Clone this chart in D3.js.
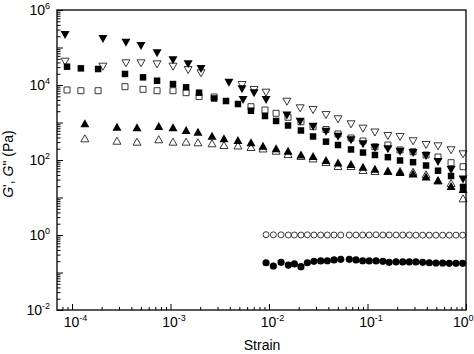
<!DOCTYPE html>
<html>
<head>
<meta charset="utf-8">
<script src="https://cdn.jsdelivr.net/npm/d3@7"></script>
<style>
  body { margin: 0; background: #fff; }
  svg { font-family: "Liberation Sans", Arial, sans-serif; }
  .frame { fill: none; stroke: #000; stroke-width: 1.3; }
  .axis path { display: none; }
  .axis line { stroke: #000; stroke-width: 1; }
  .tick-label { font-size: 14px; fill: #000; }
  .axis-title { font-size: 14px; fill: #000; }
</style>
</head>
<body>
<div id="chart"></div>
<script>
// strain values and moduli (Pa), one pair of arrays per sample
const strainA = [8.5e-5, 2.06e-4, 3.53e-4, 5.02e-4, 7.3e-4, 1.06e-3, 1.51e-3, 2.04e-3, 3.92e-3, 5.32e-3,
  5.45e-3, 7.05e-3, 9.33e-3, 1.52e-2, 2.07e-2, 2.80e-2, 3.79e-2, 5.02e-2, 6.80e-2, 9.0e-2,
  0.119, 0.161, 0.214, 0.290, 0.393, 0.520, 0.705, 0.933];
const gPrimeA = [2.15e5, 1.69e5, 1.34e5, 1.10e5, 7.0e4, 4.6e4, 3.6e4, 2.67e4, 1.15e4, 7.7e3,
  3.98e3, 6.0e3, 4.0e3, 1.54e3, 1.05e3, 773, 569, 418, 335, 262,
  209, 193, 166, 154, 128, 88.5, 54, 30.2];
const gDoublePrimeA = [4.18e4, 3.08e4, 3.79e4, 3.79e4, 3.56e4, 3.08e4, 2.51e4, 2.05e4, null, 1.0e4,
  null, 7.36e3, 6.24e3, 3.59e3, 2.39e3, 2.15e3, 1.58e3, 1.22e3, 895, 684,
  541, 437, 411, 316, 251, 232, 182, 142];

const strainB = [8.9e-5, 1.23e-4, 1.84e-4, 3.45e-4, 5.26e-4, 7.3e-4, 1.06e-3, 1.44e-3, 1.95e-3, 2.77e-3,
  3.66e-3, 4.84e-3, 6.56e-3, 9.1e-3, 1.18e-2, 1.56e-2, 2.11e-2, 2.80e-2, 3.79e-2, 5.02e-2,
  6.80e-2, 9.0e-2, 0.119, 0.161, 0.214, 0.290, 0.393, 0.520, 0.705, 0.933];
const gPrimeB = [3.08e4, 2.78e4, 2.67e4, 1.97e4, 1.60e4, 1.30e4, 1.06e4, 8.68e3, 6.24e3, 4.37e3,
  3.74e3, 3.11e3, 2.06e3, 1.49e3, 1.10e3, 832, 612, 424, 308, 251,
  191, 158, 136, 119, 97, 87.4, 71.3, 51.9, 37.4, 19.1];
const gDoublePrimeB = [7.36e3, 7.05e3, 7.05e3, 9.01e3, 7.67e3, 7.05e3, 7.05e3, 6.24e3, 4.93e3, 4.79e3,
  null, null, 2.64e3, 2.15e3, 1.76e3, 1.38e3, 1.05e3, 773, 650, 494,
  386, 321, 226, 251, 185, 166, 136, 120, 84.8, 66.3];

const strainC = [1.35e-4, 2.86e-4, 4.57e-4, 7.6e-4, 1.06e-3, 1.44e-3, 1.90e-3, 2.64e-3, 3.49e-3, 4.84e-3,
  6.56e-3, 8.69e-3, 1.18e-2, 1.56e-2, 2.11e-2, 2.80e-2, 3.79e-2, 5.02e-2, 6.80e-2, 9.0e-2,
  0.119, 0.161, 0.214, 0.290, 0.393, 0.520, 0.705, 0.933];
const gPrimeC = [953, 773, 745, 807, 745, 631, 569, 442, 379, 341,
  296, 240, 205, 177, 140, 128, 100, 85.8, 78.2, 66.3,
  58.6, 51.5, 47.9, 43.6, 36.3, 29.3, 20.3, 16.9];
const gDoublePrimeC = [379, 327, 308, 357, 308, 308, 296, 279, 251, 244,
  222, 203, 177, 145, 128, 110, 88.5, 69.2, 69.2, 54.1,
  50.9, 50.9, 50.9, 48.7, 41.6, 28.4, 24.4, 9.5];

const strainD = [0.00933, 0.01107, 0.01325, 0.0157, 0.0181, 0.0211, 0.0245, 0.0286, 0.0335, 0.0391,
  0.0457, 0.0535, 0.0653, 0.0764, 0.0893, 0.104, 0.122, 0.143, 0.166, 0.195,
  0.228, 0.266, 0.310, 0.363, 0.424, 0.495, 0.579, 0.676, 0.791, 0.925];
const gPrimeD = [0.182, 0.149, 0.187, 0.158, 0.169, 0.143, 0.182, 0.199, 0.203, 0.206,
  0.216, 0.225, 0.225, 0.216, 0.206, 0.203, 0.203, 0.199, 0.187, 0.191,
  0.191, 0.191, 0.191, 0.187, 0.182, 0.179, 0.179, 0.176, 0.176, 0.176];
const gDoublePrimeD = [1.02, 1.01, 1.01, 1.0, 1.0, 1.0, 1.01, 1.0, 1.0, 1.0,
  1.0, 1.0, 1.0, 1.0, 1.0, 1.0, 1.01, 1.0, 1.0, 1.0,
  1.0, 1.0, 0.99, 0.99, 0.99, 0.99, 0.99, 0.99, 0.99, 0.99];

// axis ticks
const xMajorExp = [-4, -3, -2, -1, 0];
const yLabelExp = [6, 4, 2, 0, -2];

class StrainSweep {

  constructor(_config) {
    this.config = {
      parentElement: _config.parentElement,
      containerWidth: _config.containerWidth || 474,
      containerHeight: _config.containerHeight || 354,
      margin: _config.margin || {top: 10, right: 8, bottom: 44, left: 57}
    }
    this.initVis();
  }

  initVis() {
    let vis = this;

    vis.width = vis.config.containerWidth - vis.config.margin.left - vis.config.margin.right;
    vis.height = vis.config.containerHeight - vis.config.margin.top - vis.config.margin.bottom;

    vis.svg = d3.select(vis.config.parentElement).append('svg')
        .attr('width', vis.config.containerWidth)
        .attr('height', vis.config.containerHeight);

    vis.chart = vis.svg.append('g')
        .attr('transform', `translate(${vis.config.margin.left},${vis.config.margin.top})`);

    vis.x = d3.scaleLog().domain([7.04e-5, 1]).range([0, vis.width]);
    vis.y = d3.scaleLog().domain([1e-2, 1e6]).range([vis.height, 0]);

    // open symbols first, filled ones drawn over them
    vis.series = [
      {xs: strainA, ys: gDoublePrimeA, shape: 'down', filled: false},
      {xs: strainB, ys: gDoublePrimeB, shape: 'square', filled: false},
      {xs: strainC, ys: gDoublePrimeC, shape: 'up', filled: false},
      {xs: strainD, ys: gDoublePrimeD, shape: 'circle', filled: false},
      {xs: strainB, ys: gPrimeB, shape: 'square', filled: true},
      {xs: strainA, ys: gPrimeA, shape: 'down', filled: true},
      {xs: strainC, ys: gPrimeC, shape: 'up', filled: true},
      {xs: strainD, ys: gPrimeD, shape: 'circle', filled: true}
    ];

    vis.renderVis();
  }

  markerPath(shape, filled) {
    if (shape === 'down') {
      const w = filled ? 9 : 8, h = filled ? 8 : 7;
      return `M${-w/2},${-h/2}L${w/2},${-h/2}L0,${h/2}Z`;
    }
    if (shape === 'up') {
      const w = filled ? 9 : 8, h = filled ? 8 : 7;
      return `M${-w/2},${h/2}L${w/2},${h/2}L0,${-h/2}Z`;
    }
    if (shape === 'square') {
      const s = filled ? 6.5 : 6;
      return `M${-s/2},${-s/2}h${s}v${s}h${-s}Z`;
    }
    const r = filled ? 3.6 : 3;
    return `M${r},0A${r},${r},0,1,1,${-r},0A${r},${r},0,1,1,${r},0Z`;
  }

  renderVis() {
    let vis = this;

    // axes: inward ticks on left and bottom only
    const xMinor = [];
    const yMinor = [];
    for (let e = -5; e < 0; e++) for (let k = 2; k < 10; k++) {
      const v = k * Math.pow(10, e);
      if (v > 7.04e-5 && v < 1) xMinor.push(v);
    }
    for (let e = -2; e < 6; e++) for (let k = 2; k < 10; k++) yMinor.push(k * Math.pow(10, e));
    const yDecades = d3.range(-2, 7).map(e => Math.pow(10, e));

    vis.chart.append('g').attr('class', 'axis')
        .attr('transform', `translate(0,${vis.height})`)
        .call(d3.axisBottom(vis.x).tickValues(xMinor).tickSizeInner(-3).tickSizeOuter(0).tickFormat(''));
    const xAxisG = vis.chart.append('g').attr('class', 'axis')
        .attr('transform', `translate(0,${vis.height})`)
        .call(d3.axisBottom(vis.x).tickValues(xMajorExp.map(e => Math.pow(10, e)))
          .tickSizeInner(-6).tickSizeOuter(0).tickFormat(''));

    vis.chart.append('g').attr('class', 'axis')
        .call(d3.axisLeft(vis.y).tickValues(yMinor).tickSizeInner(-3.5).tickSizeOuter(0).tickFormat(''));
    vis.chart.append('g').attr('class', 'axis')
        .call(d3.axisLeft(vis.y).tickValues(yDecades).tickSizeInner(-6).tickSizeOuter(0).tickFormat(''));

    // power-of-ten labels (last one pulled in so it stays on the page)
    xAxisG.selectAll('.tick').each(function(d) {
      const last = d === 1;
      const t = d3.select(this).append('text')
          .attr('class', 'tick-label')
          .attr('text-anchor', last ? 'end' : 'middle')
          .attr('x', last ? 7 : 3)
          .attr('y', 17);
      t.append('tspan').text('10');
      t.append('tspan').attr('dy', -6).attr('font-size', 9).text(Math.round(Math.log10(d)));
    });

    vis.chart.selectAll('.y-label')
        .data(yLabelExp)
      .join('text')
        .attr('class', 'tick-label')
        .attr('text-anchor', 'end')
        .attr('x', -7)
        .attr('y', d => vis.y(Math.pow(10, d)) + 5)
        .each(function(d) {
          const t = d3.select(this);
          t.append('tspan').text('10');
          t.append('tspan').attr('dy', -6).attr('font-size', 9).text(d);
        });

    // data markers
    vis.series.forEach(s => {
      const pts = s.xs.map((x, i) => [x, s.ys[i]]).filter(p => p[1] != null);
      vis.chart.append('g').selectAll('path')
          .data(pts)
        .join('path')
          .attr('transform', p => `translate(${vis.x(p[0])},${vis.y(p[1])})`)
          .attr('d', vis.markerPath(s.shape, s.filled))
          .attr('fill', s.filled ? '#000' : 'none')
          .attr('stroke', s.filled ? 'none' : '#222')
          .attr('stroke-width', 0.9);
    });

    // frame
    vis.chart.append('rect')
        .attr('class', 'frame')
        .attr('width', vis.width)
        .attr('height', vis.height);

    // axis titles
    vis.svg.append('text')
        .attr('class', 'axis-title')
        .attr('text-anchor', 'middle')
        .attr('x', vis.config.margin.left + vis.x(0.0085))
        .attr('y', 350)
        .text('Strain');

    const yTitle = vis.svg.append('text')
        .attr('class', 'axis-title')
        .attr('text-anchor', 'middle')
        .attr('transform', `translate(13,${vis.config.margin.top + vis.height / 2 + 4}) rotate(-90)`);
    yTitle.append('tspan').attr('font-style', 'italic').text('G');
    yTitle.append('tspan').text("', ");
    yTitle.append('tspan').attr('font-style', 'italic').text('G');
    yTitle.append('tspan').text('" (Pa)');
  }
}

new StrainSweep({parentElement: '#chart'});
</script>
</body>
</html>
